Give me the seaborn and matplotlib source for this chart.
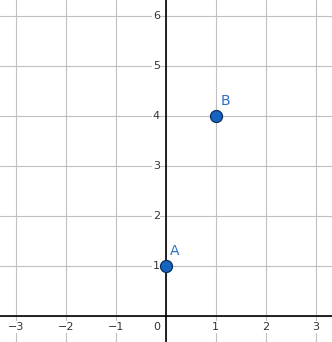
import matplotlib
matplotlib.use("Agg")
import matplotlib.pyplot as plt
import seaborn as sns
import pandas as pd

names = ["A", "B"]
xs = [0, 1]
ys = [1, 4]
x_ticks = [-3, -2, -1, 1, 2, 3]
y_ticks = [1, 2, 3, 4, 5, 6]

sns.set_style("white")
plt.rcParams["font.family"] = ["DejaVu Sans"]

fig = plt.figure(figsize=(3.32, 3.42), dpi=100)
ax = fig.add_axes([0, 0, 1, 1])
ax.set_xlim(-3.317, 3.327)
ax.set_ylim(-0.52, 6.32)

grid_color = "#c0c0c0"
for gx in range(-3, 4):
    ax.axvline(gx, color=grid_color, lw=0.8, zorder=0)
for gy in range(0, 7):
    ax.axhline(gy, color=grid_color, lw=0.8, zorder=0)

ax.axhline(0, color="black", lw=1.2, zorder=2)
ax.axvline(0, color="black", lw=1.2, zorder=2)

bbox = dict(facecolor="white", edgecolor="none", pad=0.5)
for t in x_ticks:
    ax.text(t, -0.22, str(t).replace("-", "\u2212"), ha="center", va="center",
            fontsize=8, color="#333333", bbox=bbox, zorder=3)
for t in y_ticks:
    ax.text(-0.12, t, str(t), ha="right", va="center",
            fontsize=8, color="#333333", bbox=bbox, zorder=3)
ax.text(-0.12, -0.22, "0", ha="right", va="center", fontsize=8,
        color="#333333", bbox=bbox, zorder=3)

df = pd.DataFrame({"name": names, "x": xs, "y": ys})
sns.scatterplot(data=df, x="x", y="y", ax=ax, s=75, color="#1565c0",
                edgecolor="#0d2d5a", linewidth=0.9, zorder=5, legend=False)
for n, x, y in zip(names, xs, ys):
    ax.text(x + 0.09, y + 0.16, n, fontsize=10, color="#2f6fbf",
            ha="left", va="bottom", zorder=6)

ax.set_xlabel("")
ax.set_ylabel("")
ax.set_xticks([])
ax.set_yticks([])
for s in ax.spines.values():
    s.set_visible(False)

fig.savefig("out.png", dpi=100)
